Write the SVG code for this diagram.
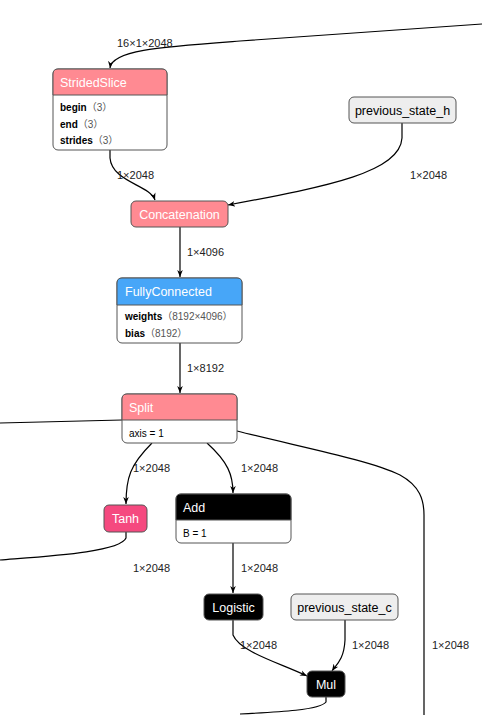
<svg xmlns="http://www.w3.org/2000/svg" width="482" height="715" viewBox="0 0 482 715">
<style>
text{font-family:"Liberation Sans","Noto Sans CJK SC",sans-serif;}
.box{stroke:#555;stroke-width:1;}
.hdr{fill:#fff;font-size:12.5px;}
.hdrc{fill:#fff;font-size:12.5px;text-anchor:middle;}
.inp{fill:#000;font-size:12.5px;text-anchor:middle;}
.an{font-size:10px;font-weight:bold;fill:#000;}
.av{font-size:10px;fill:#555;}
.at{font-size:10px;fill:#000;}
.lbl{font-size:11px;fill:#222;}
.edge{fill:none;stroke:#000;stroke-width:1.2;}
</style>
<defs>
<marker id="arr" viewBox="0 0 10 10" refX="10" refY="5" markerWidth="7" markerHeight="7" markerUnits="userSpaceOnUse" orient="auto">
<path d="M0,1 L10,5 L0,9 L3,5 z" fill="#000"/>
</marker>
</defs>
<rect width="482" height="715" fill="#fff"/>
<g id="edges">
<path class="edge" d="M 482 24 L 240 41 C 160 47, 112 50, 110 68" marker-end="url(#arr)"/>
<path class="edge" d="M 110 150 L 110 158 C 112 182, 150 185, 155 200" marker-end="url(#arr)"/>
<path class="edge" d="M 402 123 L 402 138 C 400 172, 330 186, 228 205" marker-end="url(#arr)"/>
<path class="edge" d="M 180 227 L 180 277" marker-end="url(#arr)"/>
<path class="edge" d="M 180 343 L 180 393" marker-end="url(#arr)"/>
<path class="edge" d="M 122 420 C 80 421, 40 422, 0 423"/>
<path class="edge" d="M 237 431 C 300 447, 370 460, 400 475 C 420 486, 424 500, 424 515 L 424 715"/>
<path class="edge" d="M 152 443 C 130 465, 126 478, 126 504" marker-end="url(#arr)"/>
<path class="edge" d="M 207 443 C 228 462, 233 475, 233 493" marker-end="url(#arr)"/>
<path class="edge" d="M 126 532 L 126 538 C 120 552, 50 556, 0 560"/>
<path class="edge" d="M 233 543 L 233 593" marker-end="url(#arr)"/>
<path class="edge" d="M 233 620 L 233 635 C 240 652, 280 663, 307 676" marker-end="url(#arr)"/>
<path class="edge" d="M 345 620 L 345 640 C 344 660, 336 665, 332 671" marker-end="url(#arr)"/>
<path class="edge" d="M 326 697 L 326 702 C 320 710, 280 712, 240 714"/>
<text class="lbl" x="117" y="47">16×1×2048</text>
<text class="lbl" x="117" y="179">1×2048</text>
<text class="lbl" x="410" y="179">1×2048</text>
<text class="lbl" x="187" y="256">1×4096</text>
<text class="lbl" x="187" y="372">1×8192</text>
<text class="lbl" x="133" y="472">1×2048</text>
<text class="lbl" x="241" y="472">1×2048</text>
<text class="lbl" x="133" y="572">1×2048</text>
<text class="lbl" x="241" y="572">1×2048</text>
<text class="lbl" x="240" y="649">1×2048</text>
<text class="lbl" x="352" y="649">1×2048</text>
<text class="lbl" x="432" y="649">1×2048</text>
</g>
<g id="StridedSlice">
<rect class="box" x="53" y="69" width="114" height="81" rx="5" fill="#fff"/>
<path d="M 53 95 L 53 74 Q 53 69 58 69 L 162 69 Q 167 69 167 74 L 167 95 Z" fill="#ff8a92" stroke="#555"/>
<text class="hdr" x="60" y="87">StridedSlice</text>
<text x="60" y="111"><tspan class="an">begin</tspan><tspan class="av">（3）</tspan></text>
<text x="60" y="128"><tspan class="an">end</tspan><tspan class="av">（3）</tspan></text>
<text x="60" y="144"><tspan class="an">strides</tspan><tspan class="av">（3）</tspan></text>
</g>
<g id="previous_state_h">
<rect class="box" x="349" y="97" width="107" height="26" rx="5" fill="#eee"/>
<text class="inp" x="402.5" y="114.5">previous_state_h</text>
</g>
<g id="Concatenation">
<rect class="box" x="131" y="201" width="97" height="26" rx="5" fill="#ff8a92"/>
<text class="hdrc" x="179.5" y="218.5">Concatenation</text>
</g>
<g id="FullyConnected">
<rect class="box" x="117" y="278" width="125" height="65" rx="5" fill="#fff"/>
<path d="M 117 305 L 117 283 Q 117 278 122 278 L 237 278 Q 242 278 242 283 L 242 305 Z" fill="#47a6f8" stroke="#555"/>
<text class="hdr" x="125" y="296">FullyConnected</text>
<text x="125" y="320"><tspan class="an">weights</tspan><tspan class="av">（8192×4096）</tspan></text>
<text x="125" y="337"><tspan class="an">bias</tspan><tspan class="av">（8192）</tspan></text>
</g>
<g id="Split">
<rect class="box" x="122" y="394" width="115" height="49" rx="5" fill="#fff"/>
<path d="M 122 420 L 122 399 Q 122 394 127 394 L 232 394 Q 237 394 237 399 L 237 420 Z" fill="#ff8a92" stroke="#555"/>
<text class="hdr" x="129" y="412">Split</text>
<text class="at" x="129" y="437">axis = 1</text>
</g>
<g id="Tanh">
<rect class="box" x="104" y="505" width="43" height="27" rx="5" fill="#f5497f"/>
<text class="hdrc" x="125.5" y="523">Tanh</text>
</g>
<g id="Add">
<rect class="box" x="176" y="494" width="115" height="49" rx="5" fill="#fff"/>
<path d="M 176 520 L 176 499 Q 176 494 181 494 L 286 494 Q 291 494 291 499 L 291 520 Z" fill="#000" stroke="#555"/>
<text class="hdr" x="183" y="512">Add</text>
<text class="at" x="183" y="537">B = 1</text>
</g>
<g id="Logistic">
<rect class="box" x="204" y="594" width="59" height="26" rx="5" fill="#000"/>
<text class="hdrc" x="233.5" y="612">Logistic</text>
</g>
<g id="previous_state_c">
<rect class="box" x="291" y="594" width="107" height="26" rx="5" fill="#eee"/>
<text class="inp" x="344.5" y="612">previous_state_c</text>
</g>
<g id="Mul">
<rect class="box" x="307" y="671" width="38" height="26" rx="5" fill="#000"/>
<text class="hdrc" x="326" y="689">Mul</text>
</g>
</svg>
